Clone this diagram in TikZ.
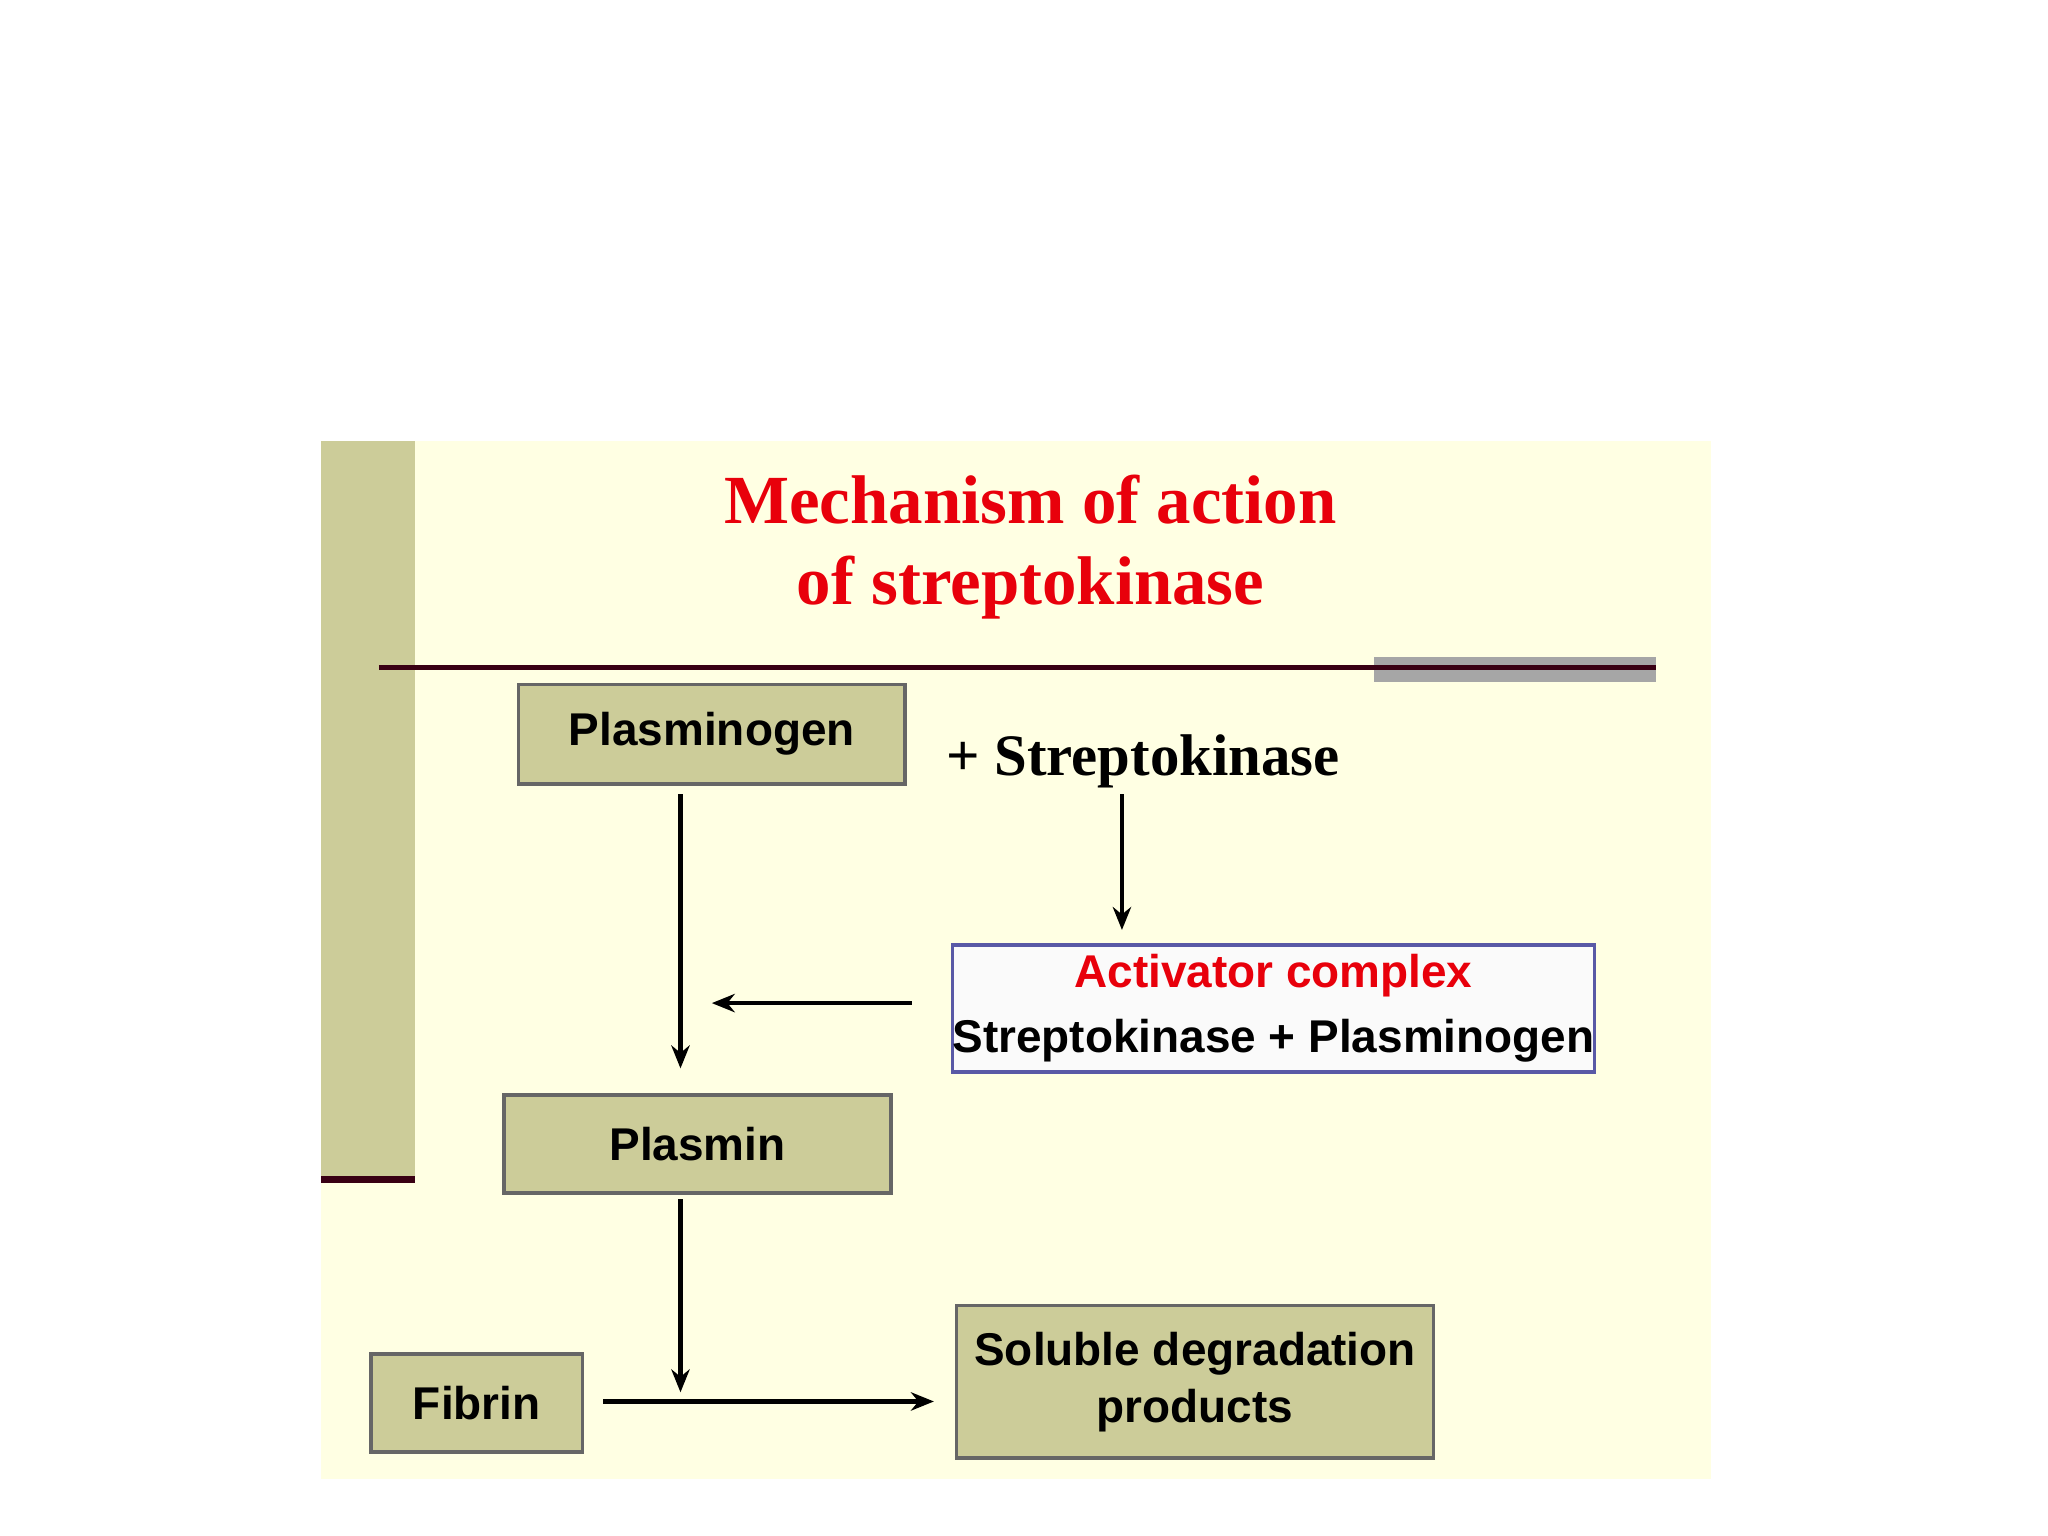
\documentclass[tikz,border=0pt]{standalone}
\usepackage{fontspec}
\setmainfont{Liberation Serif}
\newfontfamily\sansb{Liberation Sans}
\usetikzlibrary{arrows.meta}
\definecolor{slidebg}{HTML}{FFFFE3}
\definecolor{olive}{HTML}{CCCC99}
\definecolor{sred}{HTML}{E8000B}
\begin{document}
\begin{tikzpicture}[x=0.01cm,y=-0.01cm,
  box/.style={draw=gray!80!black,fill=olive,line width=0.8pt,inner sep=0pt,font=\sansb\bfseries\fontsize{10}{12.5}\selectfont,align=center},
  arr/.style={-{Stealth[length=5pt,width=4pt]},line width=1pt}]
\useasboundingbox (0,0) rectangle (1568,1176);
\fill[slidebg] (246,338) rectangle (1310,1132);
\fill[olive] (246,338) rectangle (318,903);
\draw[line width=1.5pt,color=black!70!purple] (246,903) -- (318,903);
\fill[gray!70] (1052,503) rectangle (1268,522);
\draw[line width=1pt,color=black!70!purple] (290,511) -- (1268,511);
\node[font=\bfseries\fontsize{15}{17.6}\selectfont,text=sred,align=center] (title) at (789,419) {Mechanism of action\\of streptokinase};
\node[box,minimum width=2.96cm,minimum height=0.76cm] (pg) at (545,562) {Plasminogen};
\node[font=\bfseries\fontsize{12.8}{15}\selectfont,anchor=west] (sk) at (712,583) {+ Streptokinase};
\node[draw=blue!30!gray,fill=white!96!gray,line width=0.8pt,minimum width=4.85cm,minimum height=0.97cm,inner sep=0pt,align=center,font=\sansb\bfseries\fontsize{10}{11}\selectfont] (ac) at (975,772) {\textcolor{sred}{Activator complex}\\[3pt]Streptokinase + Plasminogen};
\node[box,minimum width=2.96cm,minimum height=0.75cm] (pm) at (534,876) {Plasmin};
\node[box,minimum width=1.62cm,minimum height=0.75cm] (fb) at (365,1074) {Fibrin};
\node[box,minimum width=3.65cm,minimum height=1.17cm,font=\sansb\bfseries\fontsize{10}{12.3}\selectfont] (sd) at (915,1058) {Soluble degradation\\products};
\coordinate (a1s) at (521,608); \coordinate (a1e) at (521,818);
\coordinate (a2s) at (859,608); \coordinate (a2e) at (859,712);
\coordinate (a3s) at (698,768); \coordinate (a3e) at (545,768);
\coordinate (a4s) at (521,918); \coordinate (a4e) at (521,1066);
\coordinate (a5s) at (462,1073); \coordinate (a5e) at (715,1073);
\draw[arr] (a1s) -- (a1e);
\draw[arr] (a2s) -- (a2e);
\draw[arr] (a3s) -- (a3e);
\draw[arr] (a4s) -- (a4e);
\draw[arr] (a5s) -- (a5e);
\end{tikzpicture}
\end{document}
